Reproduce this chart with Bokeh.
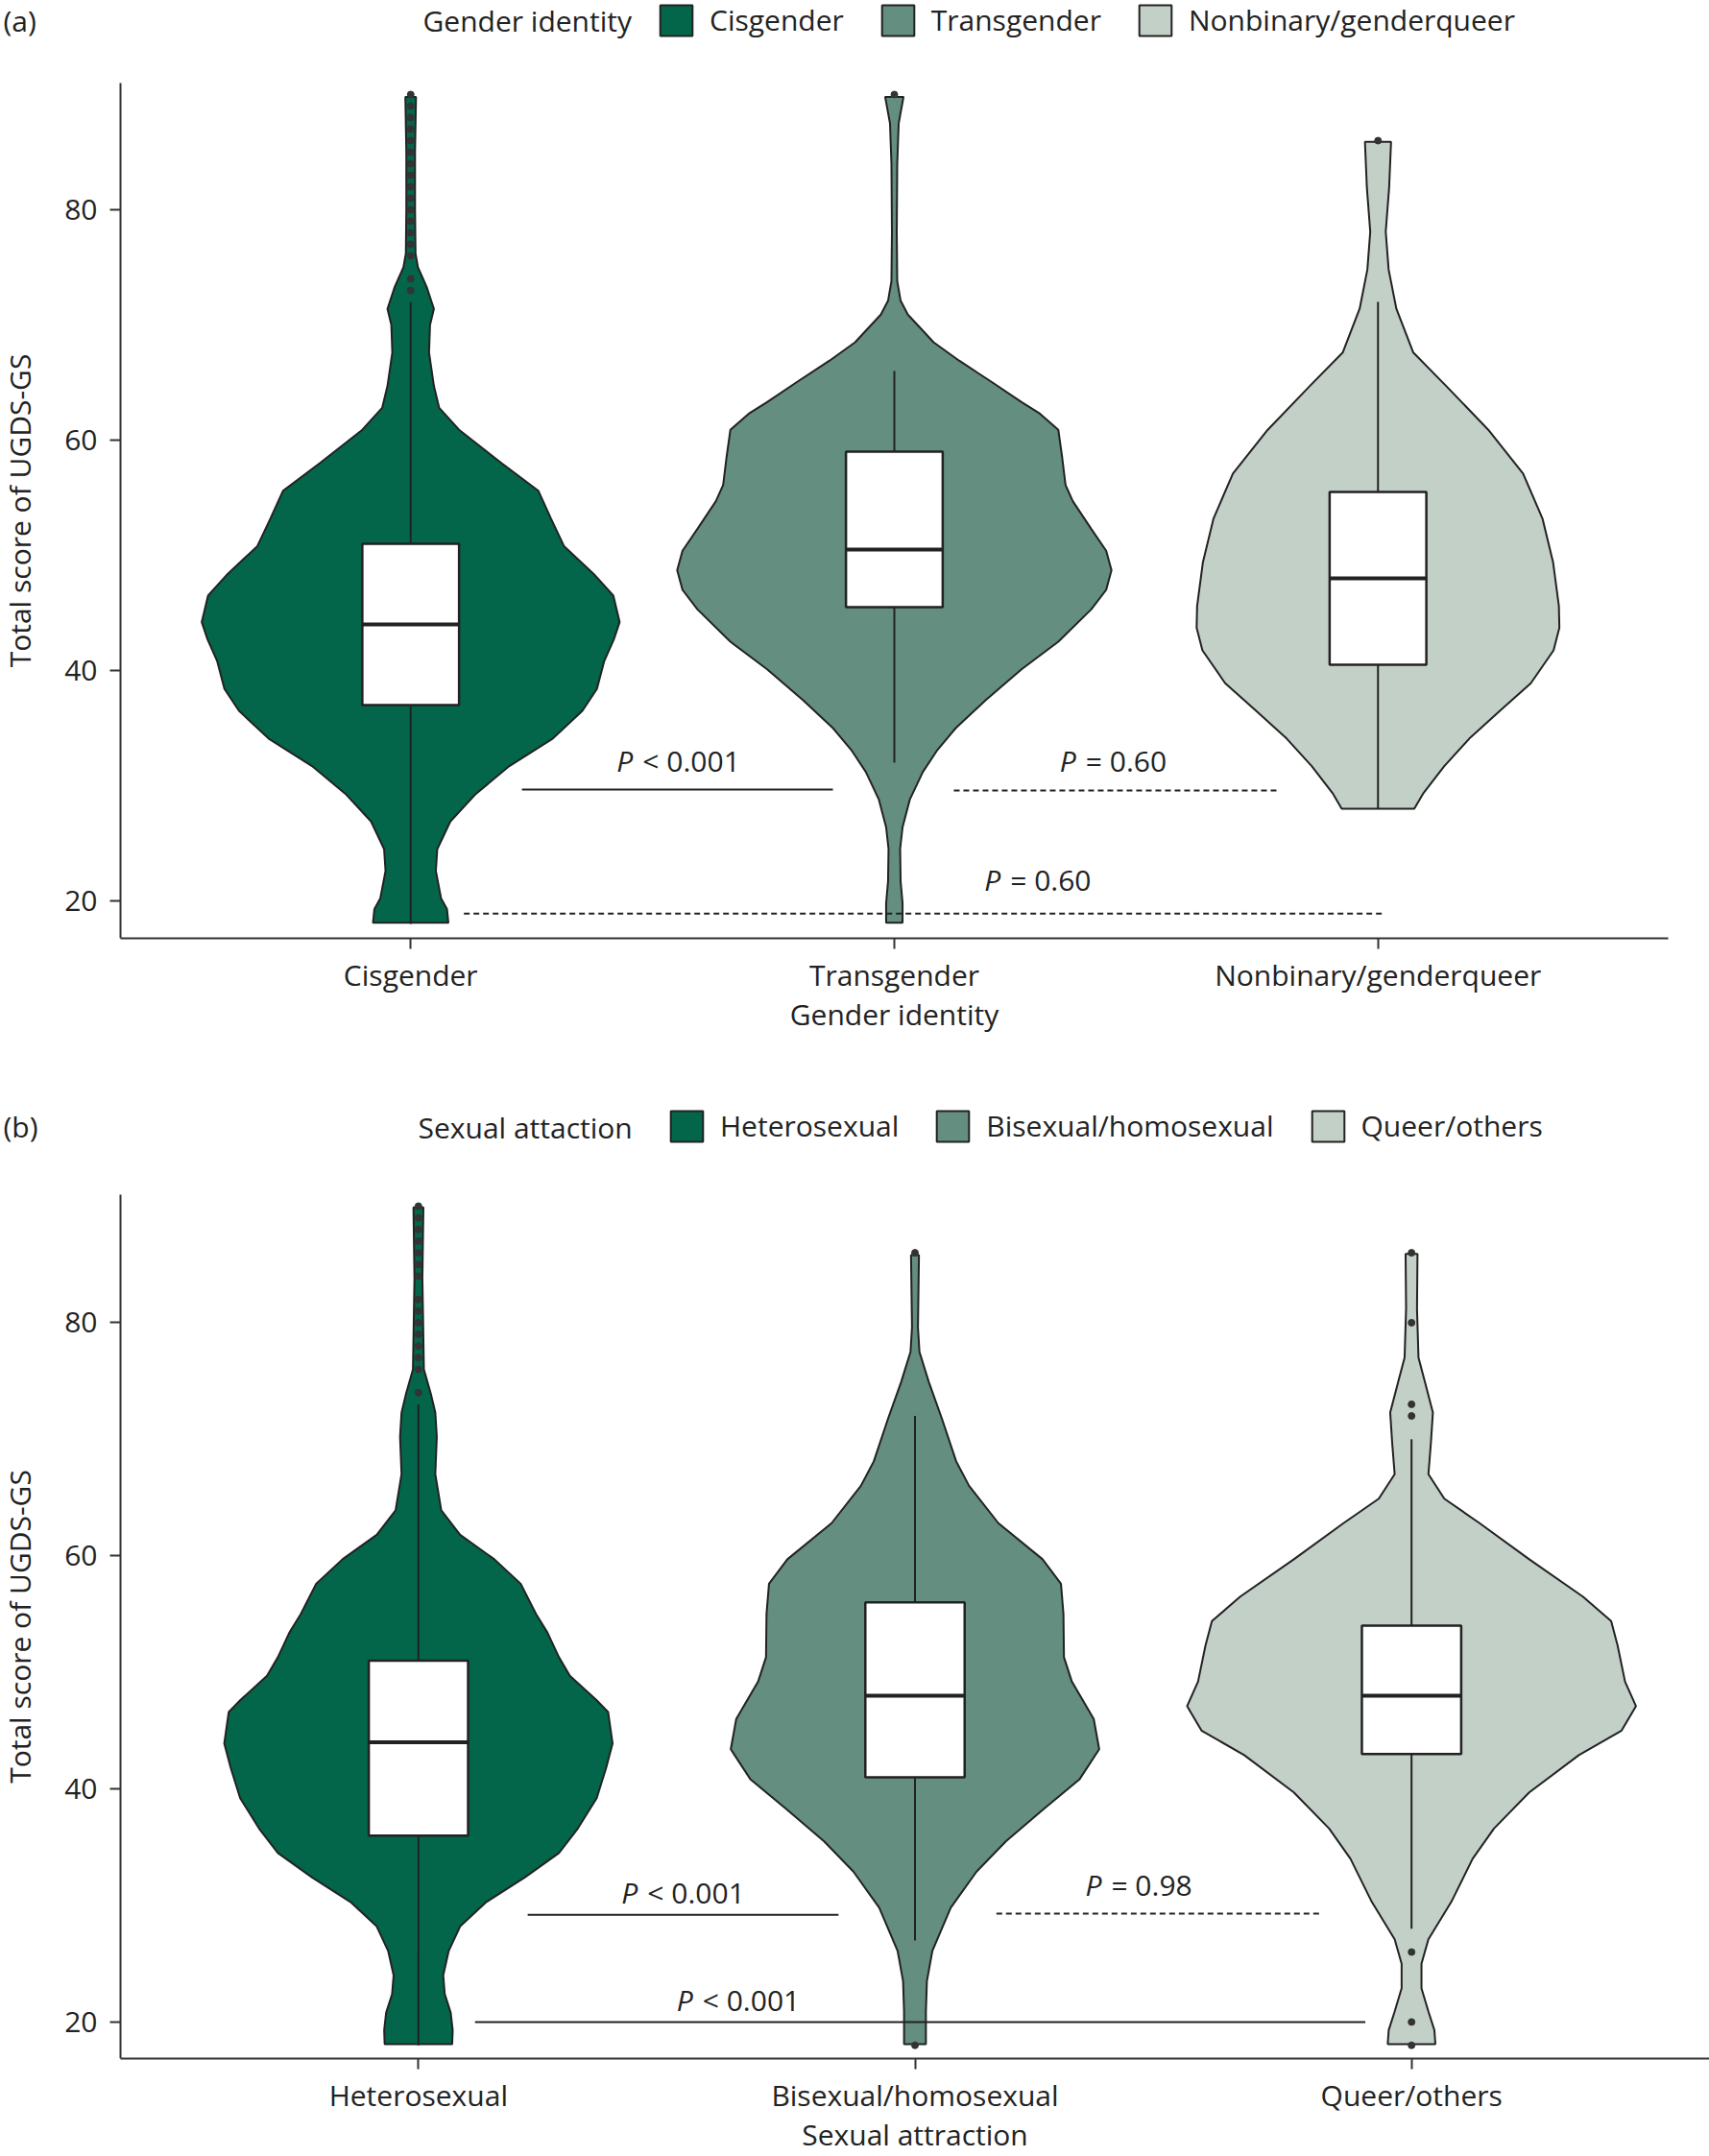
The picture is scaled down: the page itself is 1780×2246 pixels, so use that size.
from bokeh.plotting import figure
from bokeh.models import Range1d, FixedTicker, Legend, LegendItem, Label
from bokeh.embed import file_html
from bokeh.resources import INLINE
from bokeh.core.properties import value

FONT = "Open Sans"
FS = "30px"
INK = "#222222"

# ---------------- Panel (a): gender identity ----------------
a_groups = ["Cisgender", "Transgender", "Nonbinary/genderqueer"]
a_colors = ["#03664b", "#648e7f", "#c2d0c8"]
a_title = "Gender identity"

a_cis_y = [18.1, 19.3, 20.2, 22.6, 24.5, 26.9, 29.3, 31.7, 34.1, 36.5, 38.4, 40.8, 42.7, 44.2, 46.5,
           48.4, 50.8, 53.2, 55.6, 58.0, 60.9, 62.8, 64.7, 67.6, 70.0, 71.4, 73.3, 75.0, 76.2, 80.0, 85.0, 89.8]
a_cis_w = [0.078, 0.075, 0.063, 0.052, 0.055, 0.082, 0.135, 0.204, 0.294, 0.355, 0.385, 0.400, 0.420, 0.432, 0.419,
           0.378, 0.317, 0.290, 0.264, 0.188, 0.100, 0.059, 0.048, 0.038, 0.040, 0.048, 0.033, 0.015, 0.010, 0.009, 0.009, 0.011]

a_tra_y = [18.1, 19.8, 21.7, 24.5, 26.4, 28.8, 31.2, 33.1, 35.0, 37.4, 40.1, 42.5, 45.3, 47.0, 48.7, 50.4, 52.3,
           54.7, 56.1, 58.5, 60.9, 62.3, 63.3, 65.0, 66.9, 68.5, 69.5, 70.9, 72.1, 73.8, 78.0, 84.0, 87.5, 89.8]
a_tra_w = [0.017, 0.017, 0.013, 0.012, 0.017, 0.032, 0.059, 0.089, 0.127, 0.188, 0.263, 0.339, 0.407, 0.438, 0.449,
           0.438, 0.407, 0.369, 0.354, 0.347, 0.339, 0.301, 0.263, 0.203, 0.134, 0.081, 0.059, 0.028, 0.013, 0.006,
           0.005, 0.006, 0.009, 0.019]

a_nb_y = [28.0, 29.3, 31.7, 34.1, 36.5, 38.9, 41.75, 43.7, 45.6, 49.4, 53.2, 57.1, 60.9, 64.7, 67.6, 71.4,
          74.8, 78.1, 81.9, 85.9]
a_nb_w = [0.075, 0.093, 0.137, 0.189, 0.252, 0.316, 0.363, 0.375, 0.374, 0.362, 0.340, 0.300, 0.228, 0.141,
          0.073, 0.038, 0.022, 0.016, 0.023, 0.027]

a_lo = [18, 32, 28]
a_q1 = [37, 45.5, 40.5]
a_med = [44, 50.5, 48]
a_q3 = [51, 59, 55.5]
a_hi = [72, 66, 72]
a_out = [[73, 74, 76, 77, 78, 79, 80, 81, 82, 83, 84, 85, 86, 87, 88, 89, 90], [90], [86]]

a_cmp_x0 = [1.23, 2.123, 1.11]
a_cmp_x1 = [1.873, 2.79, 3.01]
a_cmp_y = [29.67, 29.58, 18.9]
a_cmp_dash = ["solid", "6 4", "6 4"]
a_p_x = [1.426, 2.342, 2.186]
a_p_y = [32.2, 32.2, 21.8]
a_p_rest = ["< 0.001", "= 0.60", "= 0.60"]

# ---------------- Panel (b): sexual attraction ----------------
b_groups = ["Heterosexual", "Bisexual/homosexual", "Queer/others"]
b_colors = ["#03664b", "#648e7f", "#c2d0c8"]
b_title = "Sexual attaction"
b_xlabel = "Sexual attraction"

b_het_y = [18.1, 19.3, 20.8, 22.4, 24.0, 26.1, 28.2, 30.3, 32.4, 34.5, 36.6, 39.2, 41.8, 43.9, 46.6, 47.6,
           49.7, 51.3, 53.4, 55.0, 57.6, 59.7, 61.8, 63.9, 67.0, 70.2, 72.3, 73.9, 76.0, 83.8, 89.9]
b_het_w = [0.068, 0.069, 0.065, 0.053, 0.050, 0.061, 0.084, 0.137, 0.214, 0.283, 0.321, 0.359, 0.378, 0.391,
           0.382, 0.359, 0.305, 0.283, 0.260, 0.237, 0.206, 0.153, 0.084, 0.046, 0.034, 0.037, 0.034, 0.025,
           0.011, 0.008, 0.010]

b_bi_y = [18.1, 20.9, 23.5, 26.1, 29.8, 32.9, 35.5, 38.2, 40.8, 43.4, 46.0, 49.2, 51.3, 55.0, 57.6, 59.7,
          62.8, 66.0, 68.1, 71.8, 74.9, 77.5, 79.6, 85.8]
b_bi_w = [0.022, 0.022, 0.024, 0.035, 0.072, 0.124, 0.183, 0.257, 0.331, 0.371, 0.360, 0.316, 0.300, 0.299,
          0.294, 0.257, 0.168, 0.109, 0.083, 0.054, 0.028, 0.009, 0.006, 0.008]

b_qu_y = [18.1, 19.3, 20.9, 22.9, 25.0, 27.1, 30.3, 34.0, 36.6, 39.7, 42.9, 45.0, 47.1, 49.2, 52.3, 54.4,
          56.5, 59.7, 62.8, 64.9, 67.0, 69.7, 72.3, 74.9, 77.0, 81.2, 85.9]
b_qu_w = [0.048, 0.046, 0.034, 0.020, 0.020, 0.034, 0.080, 0.123, 0.166, 0.237, 0.337, 0.423, 0.452, 0.430,
          0.415, 0.402, 0.345, 0.237, 0.137, 0.066, 0.034, 0.039, 0.043, 0.027, 0.014, 0.011, 0.012]

b_lo = [18, 27, 28]
b_q1 = [36, 41, 43]
b_med = [44, 48, 48]
b_q3 = [51, 56, 54]
b_hi = [73, 72, 70]
b_out = [[74, 76, 77, 78, 79, 80, 81, 82, 84, 85, 86, 87, 88, 89, 90], [18, 86], [18, 20, 26, 72, 73, 80, 86]]

b_cmp_x0 = [1.22, 2.164, 1.114]
b_cmp_x1 = [1.846, 2.817, 2.907]
b_cmp_y = [29.2, 29.3, 20.0]
b_cmp_dash = ["solid", "6 4", "solid"]
b_p_x = [1.409, 2.343, 1.52]
b_p_y = [31.1, 31.8, 21.9]
b_p_rest = ["< 0.001", "= 0.98", "< 0.001"]

y_ticks = [20, 40, 60, 80]
y_label = "Total score of UGDS-GS"
X_LO, X_HI = 0.4, 3.6
Y_HI = 91.0


def make_panel(tag, groups, colors, legend_title, xlabel, shapes, lo, q1, med, q3, hi, outs,
               cx0, cx1, cy, cdash, px, py, prest, width, height, bl, br, bt, bb, y_lo,
               tag_y, head_x, head_y, box_x):
    # pixels per data unit of the plotting area (axis box bl..width-br, bt..height-bb)
    ppu = (width - bl - br) / (X_HI - X_LO)
    ppy = (height - bt - bb) / (Y_HI - y_lo)
    x_start = X_LO - bl / ppu
    x_end = X_HI + br / ppu
    y_top = Y_HI + bt / ppy
    frame_h = height - bb

    def to_x(pix):
        return x_start + pix / ppu

    def to_y(pix):
        return y_top - pix / ppy

    p = figure(width=width, height=height, output_backend="svg", toolbar_location=None,
               x_range=Range1d(x_start, x_end), y_range=Range1d(y_lo, y_top), title=None,
               min_border_left=0, min_border_right=0, min_border_top=0, min_border_bottom=bb)
    p.xgrid.visible = False
    p.ygrid.visible = False
    p.outline_line_color = None
    p.background_fill_color = "white"

    renderers = []
    for i, (ys, ws) in enumerate(shapes):
        c = i + 1
        xs = [c - w for w in ws] + [c + w for w in reversed(ws)]
        yy = list(ys) + list(reversed(ys))
        r = p.patch(xs, yy, fill_color=colors[i], line_color=INK, line_width=2)
        renderers.append(r)

    cats = [i + 1 for i in range(len(groups))]
    p.segment(x0=cats, y0=lo, x1=cats, y1=q1, line_color=INK, line_width=2)
    p.segment(x0=cats, y0=q3, x1=cats, y1=hi, line_color=INK, line_width=2)
    p.quad(left=[c - 0.1 for c in cats], right=[c + 0.1 for c in cats], bottom=q1, top=q3,
           fill_color="white", line_color=INK, line_width=2.5)
    p.segment(x0=[c - 0.1 for c in cats], y0=med, x1=[c + 0.1 for c in cats], y1=med,
              line_color=INK, line_width=4)
    for i, o in enumerate(outs):
        p.scatter(x=[cats[i]] * len(o), y=o, size=7, color="#333333")

    for k in range(len(cx0)):
        p.segment(x0=[cx0[k]], y0=[cy[k]], x1=[cx1[k]], y1=[cy[k]], line_color=INK,
                  line_width=2, line_dash=cdash[k])
    p.text(x=px, y=py, text=["P"] * len(px), text_font=value(FONT), text_font_size=FS,
           text_font_style="italic", text_baseline="middle", text_align="left", text_color=INK)
    p.text(x=px, y=py, text=prest, text_font=value(FONT), text_font_size=FS, x_offset=27,
           text_baseline="middle", text_align="left", text_color=INK)

    # axes; the x-axis title sits under the middle category, as in the original
    overrides = {c: g for c, g in zip(cats, groups)}
    overrides[2] = groups[1] + "\n" + xlabel
    p.xaxis.ticker = FixedTicker(ticks=cats)
    p.xaxis.major_label_overrides = overrides
    p.xaxis.bounds = (X_LO, X_HI)
    p.yaxis.ticker = FixedTicker(ticks=y_ticks)
    p.yaxis.bounds = (y_lo, Y_HI)
    p.yaxis.fixed_location = X_LO
    for ax in (p.xaxis, p.yaxis):
        ax.axis_line_color = "#333333"
        ax.axis_line_width = 2
        ax.major_tick_line_color = "#333333"
        ax.major_tick_line_width = 2
        ax.major_tick_out = 11
        ax.major_tick_in = 0
        ax.minor_tick_line_color = None
        ax.major_label_text_font = FONT
        ax.major_label_text_font_size = FS
        ax.major_label_text_color = INK
        ax.axis_label_text_font = FONT
        ax.axis_label_text_font_size = FS
        ax.axis_label_text_font_style = "normal"
        ax.axis_label_text_color = INK
    p.xaxis.major_label_standoff = 6
    p.xaxis.major_label_text_line_height = 1.0
    p.yaxis.major_label_standoff = 13
    p.yaxis.axis_label = y_label
    p.yaxis.axis_label_standoff = 23

    # panel tag and legend heading
    p.add_layout(Label(x=to_x(3), y=to_y(tag_y), text=tag, text_font=FONT, text_font_size=FS,
                       text_color=INK, text_baseline="middle", text_align="left"))
    p.add_layout(Label(x=to_x(head_x), y=to_y(head_y), text=legend_title, text_font=FONT,
                       text_font_size=FS, text_color=INK, text_baseline="middle", text_align="left"))

    items = [LegendItem(label=g, renderers=[r]) for g, r in zip(groups, renderers)]
    leg = Legend(items=items, orientation="horizontal",
                 location=(box_x, frame_h - (head_y + 20)))
    leg.label_text_font = FONT
    leg.label_text_font_size = FS
    leg.label_text_color = INK
    leg.glyph_width = 42
    leg.glyph_height = 40
    leg.label_height = 40
    leg.label_standoff = 14
    leg.spacing = 35
    leg.padding = 0
    leg.margin = 0
    leg.border_line_color = None
    leg.background_fill_alpha = 0
    p.add_layout(leg)
    return p


pa = make_panel("(a)", a_groups, a_colors, a_title, a_title,
                [(a_cis_y, a_cis_w), (a_tra_y, a_tra_w), (a_nb_y, a_nb_w)],
                a_lo, a_q1, a_med, a_q3, a_hi, a_out,
                a_cmp_x0, a_cmp_x1, a_cmp_y, a_cmp_dash, a_p_x, a_p_y, a_p_rest,
                1780, 1125, 125, 43, 86, 148, 16.75,
                21, 440, 21, 683)

pb = make_panel("(b)", b_groups, b_colors, b_title, b_xlabel,
                [(b_het_y, b_het_w), (b_bi_y, b_bi_w), (b_qu_y, b_qu_w)],
                b_lo, b_q1, b_med, b_q3, b_hi, b_out,
                b_cmp_x0, b_cmp_x1, b_cmp_y, b_cmp_dash, b_p_x, b_p_y, b_p_rest,
                1780, 1121, 125, 0, 119, 101, 16.86,
                48, 435, 49, 694)

open("out.html", "w").write(file_html([pa, pb], INLINE))
